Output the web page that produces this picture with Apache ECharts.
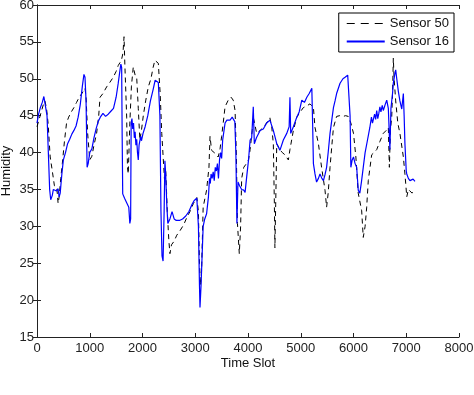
<!DOCTYPE html>
<html>
<head>
<meta charset="utf-8">
<script src="https://cdn.jsdelivr.net/npm/echarts@6/dist/echarts.min.js"></script>
<style>
html,body{margin:0;padding:0;background:#fff;}
#chart{width:474px;height:395px;}
</style>
</head>
<body>
<div id="chart"></div>
<script>
var s50Time = [0,40,80,120,150,180,210,250,290,330,375,400,420,450,480,520,560,600,650,700,750,800,850,910,930,960,1000,1040,1080,1130,1170,1195,1250,1320,1380,1445,1500,1540,1600,1630,1650,1665,1685,1700,1715,1730,1760,1790,1825,1860,1890,1920,1950,1980,2015,2060,2110,2160,2200,2235,2270,2300,2335,2365,2395,2420,2440,2470,2500,2520,2550,2600,2650,2710,2780,2840,2900,2965,3030,3060,3080,3100,3120,3150,3215,3260,3280,3310,3375,3435,3470,3500,3530,3565,3625,3680,3720,3755,3780,3800,3835,3860,3880,3920,3970,4010,4040,4080,4100,4165,4230,4290,4350,4415,4450,4480,4500,4510,4525,4545,4605,4650,4700,4765,4795,4860,4925,4990,5050,5110,5175,5240,5270,5335,5395,5460,5490,5520,5555,5590,5620,5680,5740,5805,5850,5900,5950,6000,6045,6090,6155,6185,6220,6250,6280,6345,6390,6440,6500,6565,6620,6660,6680,6700,6725,6740,6755,6770,6800,6840,6880,6945,6975,7010,7040,7070,7110,7150];
var s50Hum = [43.5,44.5,45.5,46.5,47.0,46.0,44.0,39.4,37.5,35.5,35.3,33.1,34.0,36.5,38.5,41.5,44.0,44.8,45.5,46.1,46.8,47.5,48.0,48.7,47.5,42.6,39.0,39.5,41.0,42.6,45.0,47.5,48.0,48.9,49.5,50.2,51.0,51.8,52.5,53.5,55.7,52.0,48.0,44.8,38.0,37.1,44.0,49.0,51.6,50.5,50.2,46.0,41.7,43.0,45.0,47.0,48.9,50.0,51.5,52.5,52.3,52.1,48.0,42.6,39.0,36.0,37.6,32.0,28.0,26.3,27.5,28.0,28.8,29.4,30.2,31.2,32.0,33.1,33.9,32.0,25.0,22.0,24.0,32.6,34.9,38.0,42.2,40.3,39.9,39.4,40.5,42.2,44.0,46.2,47.1,47.5,47.1,45.7,39.4,30.4,26.3,30.0,36.5,38.0,38.5,39.0,40.4,43.0,44.8,42.6,43.0,43.4,44.0,44.7,43.5,41.2,33.0,27.1,33.0,41.2,40.4,40.0,39.7,39.0,40.4,43.0,44.8,45.5,46.1,46.3,46.6,46.1,43.4,41.2,38.0,34.9,32.6,34.5,38.0,41.0,43.4,44.9,45.0,44.9,45.0,44.9,44.0,42.6,39.4,34.5,32.1,28.5,30.0,32.6,36.2,39.7,40.0,40.4,41.5,42.6,43.0,43.4,38.0,43.0,44.9,48.0,52.8,50.0,47.0,44.0,42.6,39.4,37.1,34.0,35.0,35.0,34.5,35.0];

var s16Time = [0,30,60,100,130,160,190,215,240,260,290,310,340,370,400,420,440,470,500,540,580,620,660,700,740,780,820,860,890,910,930,950,970,1000,1040,1080,1120,1160,1200,1250,1300,1350,1400,1450,1500,1540,1570,1590,1605,1615,1625,1660,1700,1740,1760,1775,1785,1800,1815,1830,1845,1860,1875,1890,1905,1920,1935,1950,1965,1980,2010,2050,2100,2150,2200,2240,2270,2300,2330,2350,2370,2390,2410,2425,2440,2460,2480,2520,2560,2600,2640,2700,2760,2820,2880,2940,2980,3030,3060,3080,3090,3110,3150,3180,3215,3250,3270,3285,3300,3320,3340,3360,3380,3400,3420,3440,3460,3480,3500,3520,3565,3600,3660,3700,3750,3770,3790,3810,3840,3880,3920,3945,3975,4010,4040,4070,4100,4120,4160,4230,4290,4355,4415,4480,4545,4605,4670,4735,4780,4795,4810,4860,4925,4970,5020,5070,5115,5160,5210,5225,5240,5270,5300,5335,5365,5400,5430,5460,5490,5520,5555,5590,5620,5650,5680,5745,5800,5840,5890,5920,5935,5950,5975,6000,6030,6060,6090,6120,6150,6185,6220,6260,6310,6340,6360,6400,6420,6440,6460,6480,6500,6520,6545,6565,6600,6630,6660,6690,6710,6740,6755,6780,6800,6820,6850,6880,6915,6945,6960,6975,7000,7010,7040,7070,7100,7130,7165];
var s16Hum = [44.0,45.2,46.0,46.8,47.6,47.5,45.0,40.0,35.0,33.6,34.2,35.0,35.2,34.8,35.1,34.0,34.5,37.0,39.0,40.0,41.2,41.8,42.5,43.0,43.6,44.8,46.5,49.0,50.6,50.2,47.0,38.0,38.5,40.0,40.5,42.0,43.2,44.2,44.8,45.3,44.9,45.2,45.6,46.0,47.5,49.4,51.0,52.0,51.5,42.0,34.4,33.8,33.2,32.6,30.4,31.0,44.0,44.6,43.2,44.0,42.0,42.8,41.0,41.8,40.0,39.0,41.0,40.8,42.2,41.6,42.6,43.5,45.0,47.0,48.5,49.8,50.0,49.5,45.0,32.0,26.0,25.3,32.0,38.9,37.0,33.0,30.4,31.0,32.0,31.0,30.8,30.8,31.0,31.4,32.0,33.0,33.5,33.8,30.0,22.0,19.0,22.0,30.0,31.0,31.7,34.0,36.5,35.8,37.1,36.5,37.4,36.2,38.0,37.5,38.5,36.5,39.0,40.0,39.2,41.7,44.0,44.4,44.4,44.8,44.2,40.0,30.4,36.0,35.5,35.0,34.9,34.6,36.7,39.0,41.7,42.0,46.2,41.2,42.0,43.0,43.2,44.0,44.4,43.0,41.2,40.3,41.7,42.6,43.5,47.5,42.6,43.5,44.8,45.5,47.1,46.8,47.5,48.0,48.7,44.0,38.5,37.1,36.0,36.5,37.1,36.5,36.2,37.0,38.0,40.0,42.6,44.5,46.1,47.0,48.0,49.4,50.0,50.2,50.5,50.7,45.0,38.0,39.0,39.4,38.5,38.0,34.9,34.5,36.0,38.0,40.0,41.5,43.4,44.8,44.0,45.2,44.5,45.7,44.6,45.3,46.2,45.5,46.4,45.7,46.5,47.1,46.0,40.4,46.0,48.0,49.4,50.5,51.2,50.0,48.3,47.0,45.9,48.0,45.0,41.2,37.5,37.1,36.5,36.2,36.0,36.4,36.1];

var xTicks = [0,1000,2000,3000,4000,5000,6000,7000,8000];
var yTicks = [15,20,25,30,35,40,45,50,55,60];
var xTitle = 'Time Slot';
var yTitle = 'Humidity';

function zip(a, b) { return a.map(function (v, i) { return [v, b[i]]; }); }

var FONT = 'Liberation Sans, Arial, Helvetica, sans-serif';
var chart = echarts.init(document.getElementById('chart'), null, {renderer: 'canvas'});
var axisCommon = {
  type: 'value',
  axisLine: {show: true, lineStyle: {color: '#222', width: 1}},
  axisTick: {show: true, inside: true, length: 4, lineStyle: {color: '#222'}},
  splitLine: {show: false}
};
chart.setOption({
  animation: false,
  backgroundColor: '#fff',
  grid: {left: 37, right: 15, top: 5, bottom: 58, containLabel: false, outerBoundsMode: 'none'},
  legend: {
    orient: 'vertical',
    right: 20, top: 13,
    backgroundColor: '#fff',
    borderColor: '#000', borderWidth: 1,
    padding: [4, 5, 4, 7],
    itemWidth: 38, itemHeight: 12, itemGap: 5,
    itemStyle: {opacity: 0},
    textStyle: {fontFamily: FONT, fontSize: 13, color: '#111'},
    data: [
      {name: 'Sensor 50', lineStyle: {type: [8, 6], width: 1}},
      {name: 'Sensor 16'}
    ]
  },
  graphic: [{
    type: 'text',
    x: 6, y: 171,
    rotation: Math.PI / 2,
    silent: true,
    style: {text: yTitle, fontFamily: FONT, fontSize: 13, fill: '#111', align: 'center', verticalAlign: 'middle'}
  }],
  xAxis: [
    Object.assign({}, axisCommon, {
      min: xTicks[0], max: xTicks[xTicks.length - 1], interval: 1000, position: 'bottom',
      axisLabel: {fontFamily: FONT, fontSize: 13, color: '#222', margin: 5, formatter: function (v) { return String(v); }},
      name: xTitle, nameLocation: 'middle', nameGap: 20, nameMoveOverlap: false,
      nameTextStyle: {fontFamily: FONT, fontSize: 13, color: '#111'}
    }),
    Object.assign({}, axisCommon, {
      min: xTicks[0], max: xTicks[xTicks.length - 1], interval: 1000, position: 'top',
      axisLabel: {show: false}
    })
  ],
  yAxis: [
    Object.assign({}, axisCommon, {
      min: yTicks[0], max: yTicks[yTicks.length - 1], interval: 5, position: 'left',
      axisLabel: {fontFamily: FONT, fontSize: 13, color: '#222', margin: 3, formatter: function (v) { return String(v); }}
    }),
    Object.assign({}, axisCommon, {
      min: yTicks[0], max: yTicks[yTicks.length - 1], interval: 5, position: 'right',
      axisLabel: {show: false}
    })
  ],
  series: [
    {
      name: 'Sensor 50', type: 'line', xAxisIndex: 0, yAxisIndex: 0,
      data: zip(s50Time, s50Hum), symbol: 'none', showSymbol: false,
      lineStyle: {color: '#000', width: 1, type: [5, 4]},
      itemStyle: {color: '#000'}
    },
    {
      name: 'Sensor 16', type: 'line', xAxisIndex: 0, yAxisIndex: 0,
      data: zip(s16Time, s16Hum), symbol: 'none', showSymbol: false,
      lineStyle: {color: '#0000ff', width: 1.2},
      itemStyle: {color: '#0000ff'}
    }
  ]
});
</script>
</body>
</html>
